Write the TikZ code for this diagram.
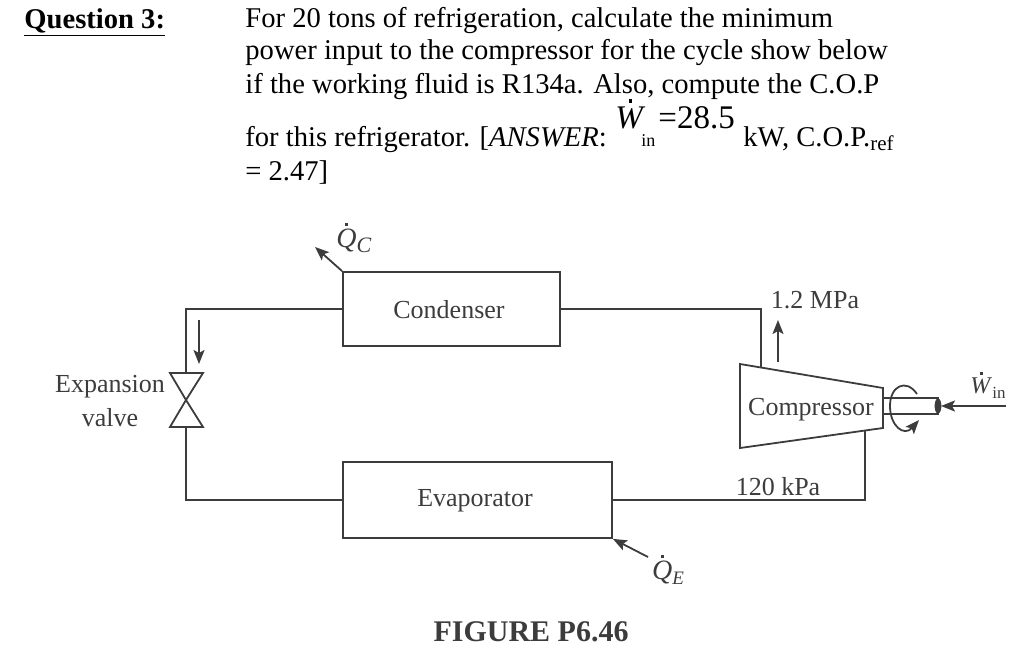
\documentclass[tikz,border=0pt]{standalone}
\usepackage{fontspec}
\setmainfont{Liberation Serif}
\usetikzlibrary{arrows.meta}
\usetikzlibrary{positioning}
\definecolor{inkgrey}{HTML}{3C3C3C}
\newcommand{\topdot}[1]{\ooalign{\textit{#1}\cr\hidewidth\raisebox{0.76em}{\rule{0.11em}{0.11em}}\hidewidth\cr}}
\tikzset{
  para/.style={anchor=base west, inner sep=0pt, font=\fontsize{14.3}{16}\selectfont, text=black},
  lbl/.style={inner sep=0pt, font=\fontsize{13}{15}\selectfont, text=inkgrey},
  unit/.style={draw=inkgrey, line width=0.9pt, inner sep=0pt},
  pipe/.style={draw=inkgrey, line width=0.9pt},
  flow/.style={->, draw=inkgrey, line width=0.9pt}
}
\begin{document}
\begin{tikzpicture}[>={Stealth[length=7pt,width=5.5pt,inset=1.5pt]}, x=0.5pt, y=-0.5pt]
\useasboundingbox (0,0) rectangle (1024,669);

% question text
\node[para, font=\fontsize{14.3}{16}\selectfont\bfseries] (Q) at (24,28) {\underline{Question 3:}};
\node[para] (L1) at (245,27) {For 20 tons of refrigeration, calculate the minimum};
\node[para] (L2) at (245,60) {power input to the compressor for the cycle show below};
\node[para] (L3) at (245,93) {if the working fluid is R134a. Also, compute the C.O.P};
\node[para] (L4) at (245,146) {for this refrigerator. [\textit{ANSWER}:};
\node[para, font=\fontsize{16.5}{18}\selectfont] (Wans) at (615,128) {\topdot{W}};
\node[para, font=\fontsize{9}{10}\selectfont] (Wsub) at (641,146) {in};
\node[para, font=\fontsize{16.5}{18}\selectfont] (Wval) at (658,128) {=28.5};
\node[para] (L4b) at (743,146) {kW, C.O.P.\raisebox{-2pt}{\fontsize{10.5}{12}\selectfont ref}};
\node[para] (L5) at (245,180) {= 2.47]};

% main units
\node[unit, minimum width=108.5pt, minimum height=37pt] (Condenser) at (451.5,309) {};
\node[lbl] (CondenserT) at (449,310) {Condenser};
\node[unit, minimum width=134.5pt, minimum height=38pt] (Evaporator) at (477.5,500) {};
\node[lbl] (EvaporatorT) at (475,501) {Evaporator};

\coordinate (C1) at (740,364);
\coordinate (C2) at (883,388);
\coordinate (C3) at (883,428);
\coordinate (C4) at (740,448);
\draw[pipe] (C1) -- (C2) -- (C3) -- (C4) -- cycle;
\node[lbl] (CompressorT) at (811,410) {Compressor};

% valve
\coordinate (V0) at (186,400);
\coordinate (V1) at (170,373);
\coordinate (V2) at (203,373);
\coordinate (V3) at (170,427);
\coordinate (V4) at (203,427);
\draw[pipe] (V0) -- (V1) -- (V2) -- cycle;
\draw[pipe] (V0) -- (V3) -- (V4) -- cycle;
\node[lbl, align=center] (ValveT) at (110,401.5) {Expansion\\[2pt]valve};

% piping
\coordinate (Vtop) at (186,373);
\coordinate (Vbot) at (186,427);
\coordinate (Cin) at (761,367.5);
\coordinate (Cout) at (865,431);
\draw[pipe] (Condenser.east) -| (Cin);
\draw[pipe] (Condenser.west) -| (Vtop);
\draw[pipe] (Evaporator.west) -| (Vbot);
\draw[pipe] (Evaporator.east) -| (Cout);

% shaft
\coordinate (S1) at (883,398);
\coordinate (S2) at (938,398);
\coordinate (S3) at (938,414);
\coordinate (S4) at (883,414);
\draw[pipe] (S1) -- (S2) -- (S3) -- (S4);
\draw[fill=inkgrey, draw=inkgrey] (938,406) ellipse (1.5pt and 3.5pt);
\draw[flow] (917,394) .. controls (906,378) and (890,386) .. (890,406) .. controls (890,426) and (904,437) .. (919,420);

% flow arrows
\coordinate (A1) at (199,320);
\coordinate (A2) at (199,364);
\draw[flow] (A1) -- (A2);
\coordinate (A3) at (778,362);
\coordinate (A4) at (778,320);
\draw[flow] (A3) -- (A4);
\coordinate (A5) at (1006,406);
\coordinate (A6) at (941,406);
\draw[flow] (A5) -- (A6);
\coordinate (A7) at (315,247);
\draw[flow] (Condenser.north west) -- (A7);
\coordinate (A8) at (648,557);
\draw[flow] (A8) -- (Evaporator.south east);

% labels
\node[lbl] (Pout) at (815,300) {1.2 MPa};
\node[lbl] (Pin) at (778,487) {120 kPa};
\node[lbl, font=\fontsize{14}{16}\selectfont] (Qc) at (354,241) {\topdot{Q}\raisebox{-2.5pt}{\fontsize{11}{12}\selectfont\textit{C}}};
\node[lbl, font=\fontsize{14}{16}\selectfont] (Qe) at (668,573) {\topdot{Q}\raisebox{-2.5pt}{\fontsize{9.5}{11}\selectfont\textit{E}}};
\node[lbl, font=\fontsize{12}{14}\selectfont] (Win) at (988,388) {\topdot{W}\raisebox{-2.5pt}{\fontsize{8.5}{10}\selectfont in}};
\node[lbl, font=\fontsize{15}{17}\selectfont\bfseries] (Fig) at (531,632) {FIGURE P6.46};
\end{tikzpicture}
\end{document}
